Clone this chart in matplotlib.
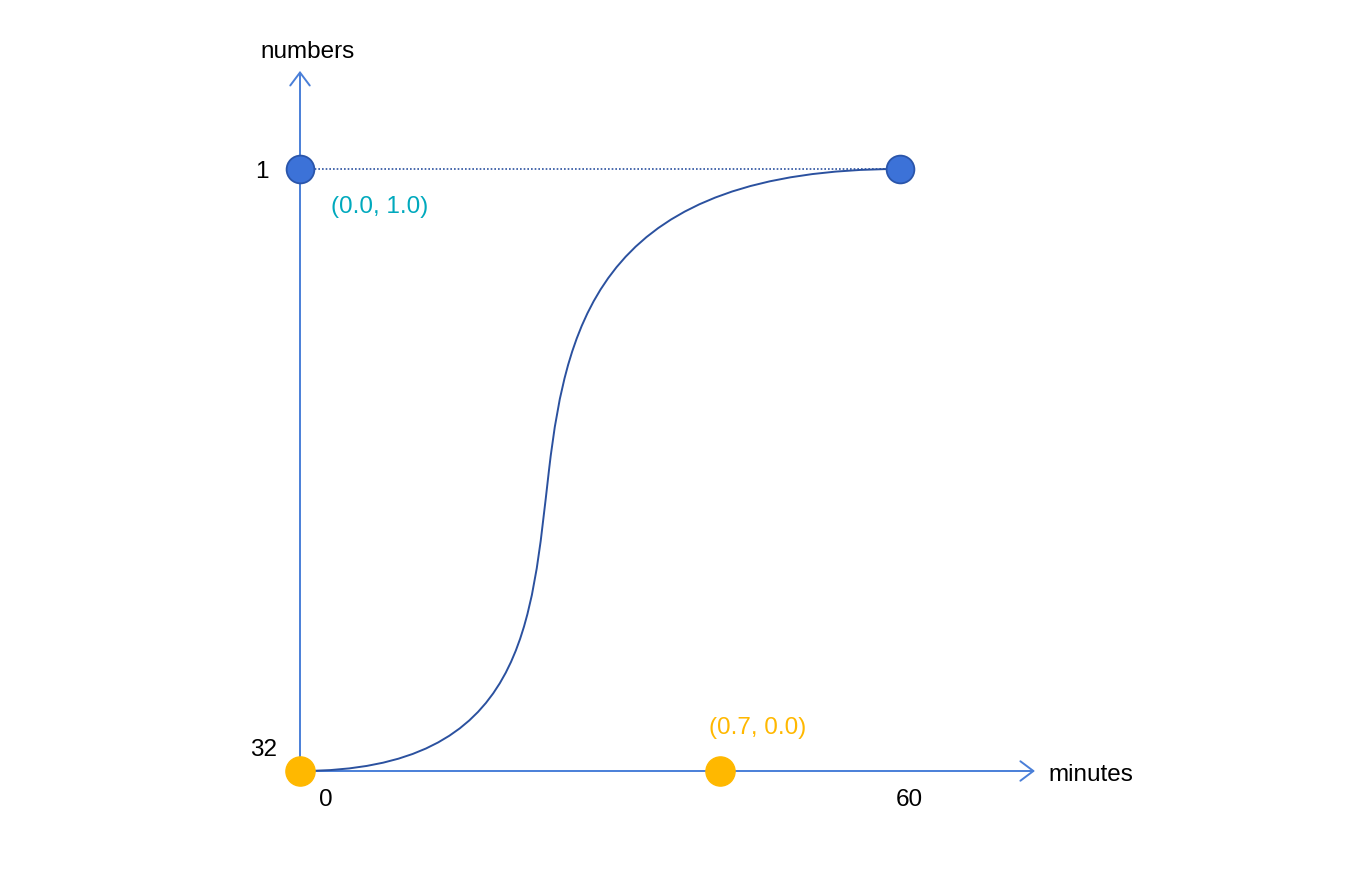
import matplotlib
matplotlib.use('Agg')
import matplotlib.pyplot as plt
from matplotlib.path import Path
from matplotlib.patches import PathPatch

plt.rcParams['font.family'] = ['Liberation Sans', 'DejaVu Sans']

# easing control points shown as dots
start = (0.0, 0.0)
ctrl1 = (0.7, 0.0)
ctrl2 = (0.0, 1.0)
end = (1.0, 1.0)

# drawn curve, read off the picture as two cubic segments
# (node, handle, handle, node, handle, handle, node) in unit-box fractions
curve_x = [0.0, 0.378, 0.385, 0.415, 0.445, 0.51, 1.0]
curve_y = [0.0, 0.0, 0.245, 0.5, 0.755, 1.0, 1.0]

x_label = 'minutes'
y_label = 'numbers'
x_ticks = ['0', '60']
y_ticks = ['32', '1']

axis_col = '#4a7fd8'
curve_col = '#2b519f'
blue_fill = '#3c72d8'
blue_edge = '#2a55aa'
orange = '#ffb800'
teal = '#00a9bd'

W, H = 1356, 870
ox, oy = 300, 772
sx, sy = 600, 602

fig = plt.figure(figsize=(W / 100, H / 100), dpi=100)
ax = fig.add_axes([0, 0, 1, 1])
ax.set_xlim(-ox / sx, (W - ox) / sx)
ax.set_ylim(-(H - oy) / sy, oy / sy)
ax.axis('off')

# axes with open arrows
arrow = '->,head_length=0.36,head_width=0.27'
ax.annotate('', xy=(1.225, 0), xytext=(0, 0),
            arrowprops=dict(arrowstyle=arrow, color=axis_col, lw=1.4,
                            mutation_scale=26, shrinkA=0, shrinkB=0))
ax.annotate('', xy=(0, 1.163), xytext=(0, 0),
            arrowprops=dict(arrowstyle=arrow, color=axis_col, lw=1.4,
                            mutation_scale=26, shrinkA=0, shrinkB=0))

# dotted guide
ax.plot([ctrl2[0], end[0]], [end[1], end[1]], ls=(0, (1, 1.2)), color=curve_col, lw=1.2, zorder=2)

# the curve
codes = [Path.MOVETO] + [Path.CURVE4] * (len(curve_x) - 1)
path = Path(list(zip(curve_x, curve_y)), codes)
ax.add_patch(PathPatch(path, facecolor='none', edgecolor=curve_col, lw=1.4, zorder=3))

# points
ax.plot([ctrl2[0], end[0]], [ctrl2[1], end[1]], 'o', ms=20, mfc=blue_fill, mec=blue_edge, mew=1.3, zorder=4)
ax.plot([start[0], ctrl1[0]], [start[1], ctrl1[1]], 'o', ms=21, mfc=orange, mec=orange, zorder=4)

fs = 17.5
ax.text(ctrl2[0] + 0.133, ctrl2[1] - 0.062, '(%.1f, %.1f)' % ctrl2, color=teal, fontsize=fs,
        ha='center', va='center')
ax.text(ctrl1[0] + 0.062, ctrl1[1] + 0.073, '(%.1f, %.1f)' % ctrl1, color=orange, fontsize=fs,
        ha='center', va='center')

ax.text(0.013, 1.196, y_label, fontsize=fs, ha='center', va='center')
ax.text(1.248, -0.005, x_label, fontsize=fs, ha='left', va='center')
ax.text(-0.053, 1.0 - 0.004, y_ticks[1], fontsize=fs, ha='right', va='center')
ax.text(-0.038, 0.037, y_ticks[0], fontsize=fs, ha='right', va='center')
ax.text(0.043, -0.046, x_ticks[0], fontsize=fs, ha='center', va='center')
ax.text(1.015, -0.046, x_ticks[1], fontsize=fs, ha='center', va='center')

fig.savefig('out.png', dpi=100)
